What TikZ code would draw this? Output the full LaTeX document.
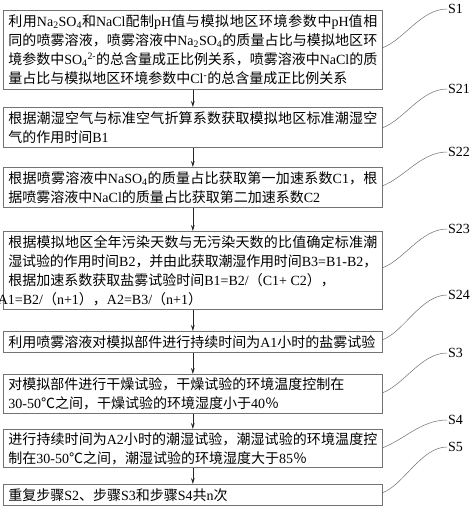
\documentclass[tikz,border=0pt]{standalone}
\usepackage{fontspec}
\setmainfont{Liberation Serif}
\newfontfamily\zhfont{Noto Sans CJK SC}
\usetikzlibrary{arrows.meta}
\XeTeXlinebreaklocale "zh"
\XeTeXlinebreakskip=0pt plus 3pt minus 0.6pt
\XeTeXlinebreakpenalty=10000
\setlength{\parindent}{0pt}
\newcommand\zh[1]{{\zhfont #1}}
\definecolor{boxgray}{RGB}{115,115,115}
\definecolor{leadgray}{RGB}{110,110,110}
\begin{document}
\begin{tikzpicture}[x=1pt,y=-1pt,
  stepbox/.style={draw=boxgray, line width=0.7pt, anchor=north west, text width=369pt,
    inner xsep=5pt, inner ysep=0pt, align=justify, font=\fontsize{14}{19}\selectfont},
  arr/.style={draw=black!85, line width=0.6pt, -{Stealth[length=6pt,width=3.6pt]}},
  lead/.style={draw=leadgray, line width=0.5pt},
  lab/.style={anchor=west, inner sep=1pt, font=\fontsize{14}{16}\selectfont}]
\useasboundingbox (0,0) rectangle (474,509);

\node[stepbox, minimum height=79pt] (s1) at (3,10) {\zh{利用}Na\textsubscript{2}SO\textsubscript{4}\zh{和}NaCl\zh{配制}pH\zh{值与模拟地区环境参数中}pH\zh{值相}\break
\zh{同的喷雾溶液，喷雾溶液中}Na\textsubscript{2}SO\textsubscript{4}\zh{的质量占比与模拟地区环}\break
\zh{境参数中}SO\textsubscript{4}\textsuperscript{2-}\zh{的总含量成正比例关系，喷雾溶液中}NaCl\zh{的质}\break
\zh{量占比与模拟地区环境参数中}Cl\textsuperscript{-}\zh{的总含量成正比例关系}};

\node[stepbox, minimum height=40pt] (s21) at (3,107) {\zh{根据潮湿空气与标准空气折算系数获取模拟地区标准潮湿空}\break
\zh{气的作用时间}B1};

\node[stepbox, minimum height=40pt] (s22) at (3,167) {\zh{根据喷雾溶液中}NaSO\textsubscript{4}\zh{的质量占比获取第一加速系数}C1\zh{，根}\break
\zh{据喷雾溶液中}NaCl\zh{的质量占比获取第二加速系数}C2};

\node[stepbox, minimum height=78pt] (s23) at (3,231) {\zh{根据模拟地区全年污染天数与无污染天数的比值确定标准潮}\break
\zh{湿试验的作用时间}B2\zh{，并由此获取潮湿作用时间}B3=B1-B2\zh{，}\break
\zh{根据加速系数获取盐雾试验时间}B1=B2/\zh{（}C1+ C2\zh{），}\par
\hspace*{-10.5pt}A1=B2/\zh{（}n+1\zh{），}A2=B3/\zh{（}n+1\zh{）}};

\node[stepbox, minimum height=21pt] (s24) at (3,331) {\zh{利用喷雾溶液对模拟部件进行持续时间为}A1\zh{小时的盐雾试验}};

\node[stepbox, minimum height=39pt] (s3) at (3,374) {\zh{对模拟部件进行干燥试验，干燥试验的环境温度控制在}\par
30-50\zh{℃之间，干燥试验的环境湿度小于}40\zh{％}};

\node[stepbox, minimum height=38pt] (s4) at (3,429) {\zh{进行持续时间为}A2\zh{小时的潮湿试验，潮湿试验的环境温度控}\break
\zh{制在}30-50\zh{℃之间，潮湿试验的环境湿度大于}85\zh{％}};

\node[stepbox, minimum height=21pt] (s5) at (3,484) {\zh{重复步骤}S2\zh{、步骤}S3\zh{和步骤}S4\zh{共}n\zh{次}};

\draw[arr] (s1) -- (s21);
\draw[arr] (s21) -- (s22);
\draw[arr] (s22) -- (s23);
\draw[arr] (s23) -- (s24);
\draw[arr] (s24) -- (s3);
\draw[arr] (s3) -- (s4);
\draw[arr] (s4) -- (s5);

\node[lab] (l1) at (447,9) {S1};
\node[lab] (l21) at (447,89) {S21};
\node[lab] (l22) at (447,152) {S22};
\node[lab] (l23) at (447,229) {S23};
\node[lab] (l24) at (447,295) {S24};
\node[lab] (l3) at (447,353) {S3};
\node[lab] (l4) at (447,420) {S4};
\node[lab] (l5) at (447,447) {S5};

\coordinate (c1) at (382,48);
\coordinate (c21) at (382,128);
\coordinate (c22) at (382,186);
\coordinate (c23) at (382,268);
\coordinate (c24) at (382,340);
\coordinate (c3) at (382,393);
\coordinate (c4) at (382,448);
\coordinate (c5) at (382,493);

\foreach \i in {1,21,22,23,24,3,4,5}
  \draw[lead] (c\i) .. controls +(22,-8) and +(-26,0) .. (l\i.west);
\end{tikzpicture}
\end{document}
